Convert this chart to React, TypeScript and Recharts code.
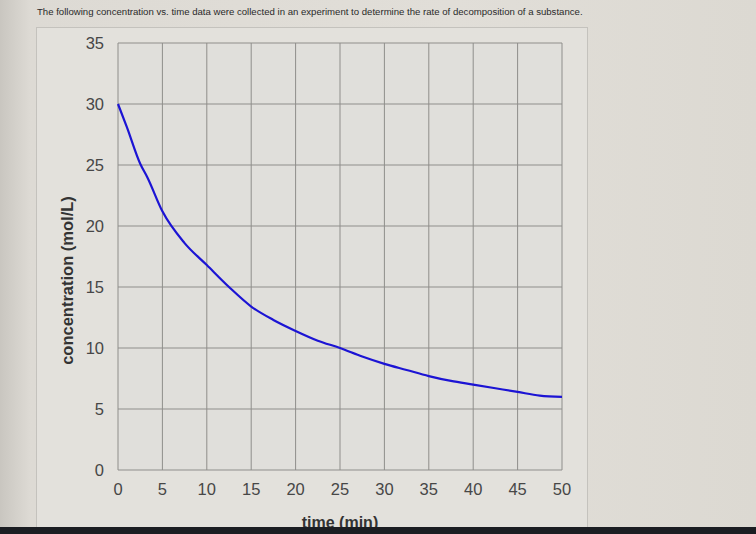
import React from 'react';
import { LineChart, Line, XAxis, YAxis, CartesianGrid, Label } from 'recharts';

// readings
const times = [0, 1, 2.5, 3.3, 5, 7.5, 10, 12.5, 15, 17.5, 20, 22.5, 25, 27.5, 30, 32.5, 35, 37.5, 40, 42.5, 45, 47.5, 50];
const concentration = [30, 28.1, 25.1, 24.0, 21.2, 18.6, 16.8, 15.0, 13.4, 12.3, 11.4, 10.6, 10.0, 9.3, 8.7, 8.2, 7.7, 7.3, 7.0, 6.7, 6.4, 6.1, 6.0];
const xTicks = [0, 5, 10, 15, 20, 25, 30, 35, 40, 45, 50];
const yTicks = [0, 5, 10, 15, 20, 25, 30, 35];

const title = 'The following concentration vs. time data were collected in an experiment to determine the rate of decomposition of a substance.';

const data = times.map((t, i) => ({ t, c: concentration[i] }));

const font = 'Liberation Sans, Arial, sans-serif';
const tickStyle = { fill: '#474747', fontSize: 16.5, fontFamily: font };

const YTitle = ({ viewBox }: any) => {
  const x = viewBox.x + 67;
  const y = viewBox.y + viewBox.height / 2 + 24;
  return (
    <text
      x={x}
      y={y}
      transform={`rotate(-90, ${x}, ${y})`}
      textAnchor="middle"
      dominantBaseline="central"
      fill="#333"
      fontSize={16.5}
      fontWeight={700}
      fontFamily={font}
    >
      concentration (mol/L)
    </text>
  );
};

const App: React.FC = () => {
  return (
    <div
      style={{
        position: 'absolute',
        left: 0,
        top: 0,
        width: 756,
        height: 534,
        overflow: 'hidden',
        background: 'linear-gradient(90deg, #c9c6c0 0px, #dddad4 30px, #e1ded8 60%, #dcd9d2 100%)',
        fontFamily: font,
      }}
    >
      <div style={{ position: 'absolute', left: 37, top: 6, fontSize: 9.6, color: '#2a2a2a', whiteSpace: 'nowrap' }}>
        {title}
      </div>
      {/* panel frame */}
      <div
        style={{
          position: 'absolute',
          left: 36,
          top: 27,
          width: 550,
          height: 520,
          border: '1px solid #c4c2bd',
          background: '#e3e1dc',
        }}
      />
      <div style={{ position: 'absolute', left: 0, top: 0 }}>
        <LineChart width={756} height={534} data={data} margin={{ top: 43, right: 194, bottom: 0, left: 0 }}>
          <CartesianGrid stroke="#8f8e8b" strokeWidth={1} fill="#e0dfdb" />
          <XAxis
            dataKey="t"
            type="number"
            domain={[0, 50]}
            ticks={xTicks}
            axisLine={false}
            tickLine={false}
            tickSize={0}
            tickMargin={13}
            tick={tickStyle}
            height={64}
          >
            <Label
              value="time (min)"
              position="insideBottom"
              offset={6}
              style={{ fill: '#333', fontSize: 16, fontWeight: 700, fontFamily: font }}
            />
          </XAxis>
          <YAxis
            type="number"
            domain={[0, 35]}
            ticks={yTicks}
            axisLine={false}
            tickLine={false}
            tickSize={0}
            tickMargin={14}
            tick={tickStyle}
            width={118}
          >
            <Label content={<YTitle />} />
          </YAxis>
          <Line type="monotone" dataKey="c" stroke="#1c14d4" strokeWidth={2.2} dot={false} isAnimationActive={false} />
        </LineChart>
      </div>
      {/* screen edge / taskbar at the bottom of the photo */}
      <div style={{ position: 'absolute', left: 0, top: 527, width: 756, height: 7, background: '#1b1d22' }} />
    </div>
  );
};

export default App;
